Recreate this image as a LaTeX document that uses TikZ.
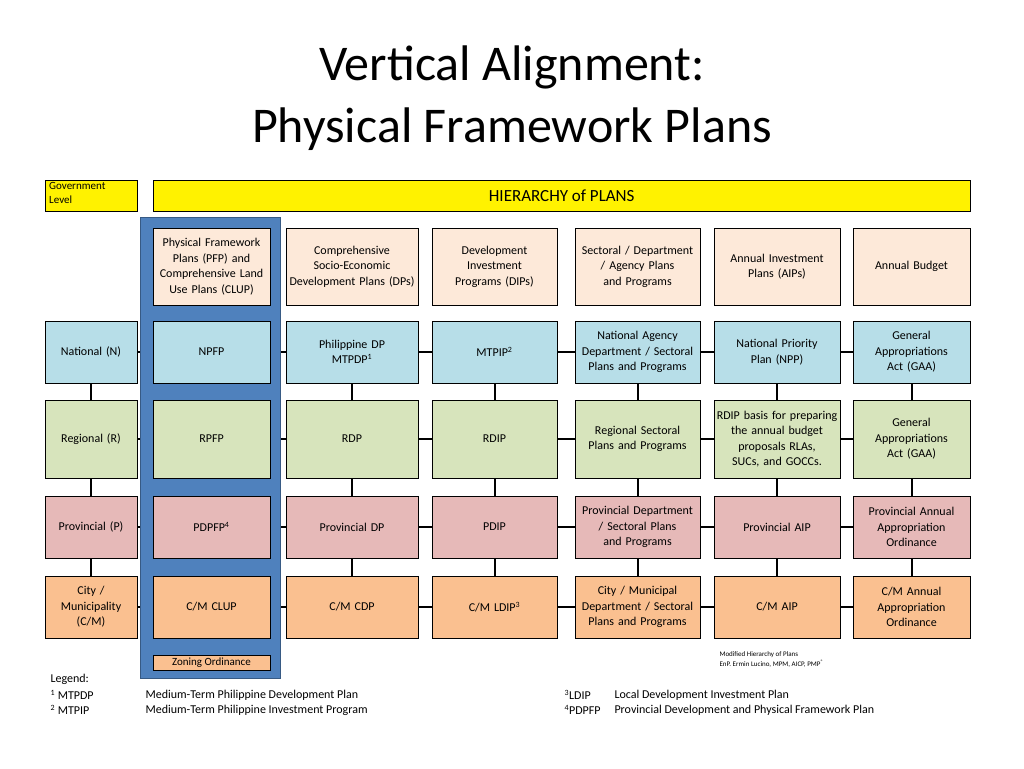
\documentclass[tikz,border=0pt]{standalone}
\usepackage{fontspec}
\setmainfont{Carlito}
\hyphenpenalty=10000
\begin{document}
\begin{tikzpicture}[x=1pt,y=-1pt,
 cell/.style={draw=black,line width=0.8pt,minimum width=#1,text width=#1-4,align=center,font=\fontsize{12}{15.5}\selectfont,inner sep=2pt},
 hdr/.style={cell=#1,fill=hdrc,minimum height=77},
 conn/.style={line width=2pt},
 lgd/.style={anchor=west,font=\fontsize{12}{14}\selectfont},
 rowN/.style={fill=nc,minimum height=62},rowR/.style={fill=rc,minimum height=78},
 rowP/.style={fill=pc,minimum height=62},rowC/.style={fill=cc,minimum height=62}]
\definecolor{hdrc}{HTML}{FDE9D9}
\definecolor{nc}{HTML}{B7DEE8}
\definecolor{rc}{HTML}{D7E4BC}
\definecolor{pc}{HTML}{E6B9B8}
\definecolor{cc}{HTML}{FAC090}
\definecolor{bluec}{HTML}{4F81BD}
\useasboundingbox (0,0) rectangle (1024,768);
\node[font=\fontsize{50}{62}\selectfont,align=center] (title) at (512,98) {Vertical Alignment:\\Physical Framework Plans};
\node[draw,fill=yellow,minimum width=92,minimum height=31,anchor=north west,inner sep=0pt] (gl) at (45,180) {};
\node[anchor=north west,align=left,font=\fontsize{11}{14}\selectfont,inner sep=2pt] (gltxt) at (47,180) {Government\\Level};
\node[draw,fill=yellow,minimum width=817,minimum height=31,anchor=north west,font=\fontsize{17}{20}\selectfont] (hier) at (153,180) {HIERARCHY of PLANS};
\foreach \r/\y in {N/352,R/439,P/527,C/607}{
 \foreach \i/\x in {0/91,1/211.5,2/352,3/494.5,4/637.5,5/777,6/911.5}
  \coordinate (\r\i) at (\x,\y);
}
\foreach \r in {N,R,P,C}{ \draw[conn] (\r0) -- (\r6); }
\foreach \a/\b in {N/R,R/P,P/C}{
 \foreach \i in {0,2,3,4,5,6} \draw[conn] (\a\i) -- (\b\i);
}
\node[fill=bluec,draw=bluec!70!black,minimum width=140,minimum height=461,anchor=north west,inner sep=0pt] (band) at (140,217) {};
% headers
\node[hdr=117] (h1) at (211.5,266.5) {Physical Framework Plans (PFP) and Comprehensive Land Use Plans (CLUP)};
\node[hdr=132] (h2) at (352,266.5) {Comprehensive Socio-Economic Development Plans (DPs)};
\node[hdr=125] (h3) at (494.5,266.5) {Development Investment Programs (DIPs)};
\node[hdr=125] (h4) at (637.5,266.5) {Sectoral / Department / Agency Plans and Programs};
\node[hdr=126] (h5) at (777,266.5) {Annual Investment Plans (AIPs)};
\node[hdr=117] (h6) at (911.5,266.5) {Annual Budget};
% National
\node[cell=92,rowN] (N0c) at (N0) {National (N)};
\node[cell=117,rowN] (N1c) at (N1) {NPFP};
\node[cell=132,rowN] (N2c) at (N2) {Philippine DP\\MTPDP\textsuperscript{1}};
\node[cell=125,rowN] (N3c) at (N3) {MTPIP\textsuperscript{2}};
\node[cell=125,rowN] (N4c) at (N4) {National Agency Department / Sectoral Plans and Programs};
\node[cell=126,rowN] (N5c) at (N5) {National Priority Plan (NPP)};
\node[cell=117,rowN] (N6c) at (N6) {General Appropriations Act (GAA)};
% Regional
\node[cell=92,rowR] (R0c) at (R0) {Regional (R)};
\node[cell=117,rowR] (R1c) at (R1) {RPFP};
\node[cell=132,rowR] (R2c) at (R2) {RDP};
\node[cell=125,rowR] (R3c) at (R3) {RDIP};
\node[cell=125,rowR] (R4c) at (R4) {Regional Sectoral Plans and Programs};
\node[cell=126,rowR] (R5c) at (R5) {RDIP basis for preparing the annual budget proposals RLAs, SUCs, and GOCCs.};
\node[cell=117,rowR] (R6c) at (R6) {General Appropriations Act (GAA)};
% Provincial
\node[cell=92,rowP] (P0c) at (P0) {Provincial (P)};
\node[cell=117,rowP] (P1c) at (P1) {PDPFP\textsuperscript{4}};
\node[cell=132,rowP] (P2c) at (P2) {Provincial DP};
\node[cell=125,rowP] (P3c) at (P3) {PDIP};
\node[cell=125,rowP] (P4c) at (P4) {Provincial Department / Sectoral Plans and Programs};
\node[cell=126,rowP] (P5c) at (P5) {Provincial AIP};
\node[cell=117,rowP] (P6c) at (P6) {Provincial Annual Appropriation Ordinance};
% City
\node[cell=92,rowC] (C0c) at (C0) {City /\\Municipality\\(C/M)};
\node[cell=117,rowC] (C1c) at (C1) {C/M CLUP};
\node[cell=132,rowC] (C2c) at (C2) {C/M CDP};
\node[cell=125,rowC] (C3c) at (C3) {C/M LDIP\textsuperscript{3}};
\node[cell=125,rowC] (C4c) at (C4) {City / Municipal Department / Sectoral Plans and Programs};
\node[cell=126,rowC] (C5c) at (C5) {C/M AIP};
\node[cell=117,rowC] (C6c) at (C6) {C/M Annual Appropriation Ordinance};
\node[draw,fill=cc,minimum width=117,minimum height=15,inner sep=0pt,font=\fontsize{11}{12}\selectfont] (zo) at (211.5,662.5) {Zoning Ordinance};
\node[anchor=north west,align=left,font=\fontsize{7}{10}\selectfont] (credit) at (716,648) {Modified Hierarchy of Plans\\EnP. Ermin Lucino, MPM, AICP, PMP\textsuperscript{\textregistered}};
\node[lgd] (lg) at (47,679) {Legend:};
\node[lgd] (l1) at (47,695) {\textsuperscript{1} MTPDP};
\node[lgd] (l1b) at (142,695) {Medium-Term Philippine Development Plan};
\node[lgd] (l2) at (47,710) {\textsuperscript{2} MTPIP};
\node[lgd] (l2b) at (142,710) {Medium-Term Philippine Investment Program};
\node[lgd] (l3) at (561,695) {\textsuperscript{3}LDIP};
\node[lgd] (l3b) at (611,695) {Local Development Investment Plan};
\node[lgd] (l4) at (561,710) {\textsuperscript{4}PDPFP};
\node[lgd] (l4b) at (611,710) {Provincial Development and Physical Framework Plan};
\end{tikzpicture}
\end{document}
